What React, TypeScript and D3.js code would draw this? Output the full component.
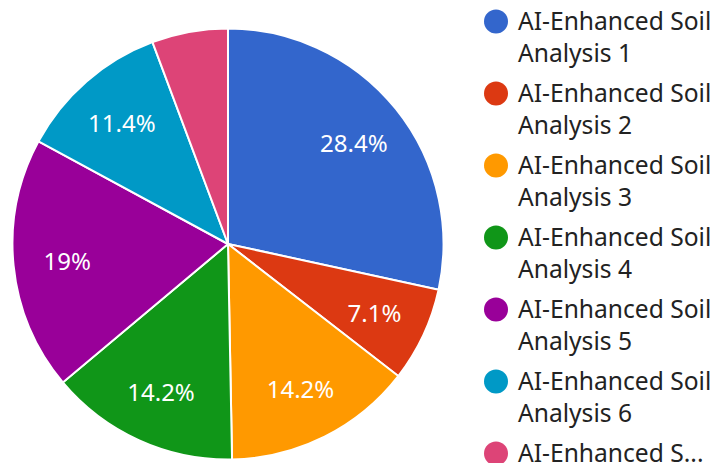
import * as d3 from 'd3';
import { useEffect, useRef } from 'react';

const categories = [
  'AI-Enhanced Soil Analysis 1',
  'AI-Enhanced Soil Analysis 2',
  'AI-Enhanced Soil Analysis 3',
  'AI-Enhanced Soil Analysis 4',
  'AI-Enhanced Soil Analysis 5',
  'AI-Enhanced Soil Analysis 6',
  'AI-Enhanced Soil Analysis 7',
];
const values = [28.4, 7.1, 14.2, 14.2, 19, 11.4, 5.7];
const colors = ['#3366cc', '#dc3912', '#ff9900', '#109618', '#990099', '#0099c6', '#dd4477'];

export default function App() {
  const ref = useRef<SVGSVGElement | null>(null);

  useEffect(() => {
    if (!ref.current) return;
    const width = 713;
    const height = 463;
    const cx = 228;
    const cy = 244;
    const r = 215.5;
    const font = '"Noto Sans", sans-serif';

    const svg = d3.select(ref.current);
    svg.selectAll('*').remove();
    svg.attr('width', width).attr('height', height);

    const data = categories.map((name, i) => ({ name, value: values[i], color: colors[i] }));
    const total = d3.sum(values);

    const pie = d3
      .pie<{ name: string; value: number; color: string }>()
      .value((d) => d.value)
      .sort(null);
    const arcs = pie(data);
    const arc = d3.arc<d3.PieArcDatum<any>>().innerRadius(0).outerRadius(r);
    const labelArc = d3.arc<d3.PieArcDatum<any>>().innerRadius(r * 0.75).outerRadius(r * 0.75);

    const g = svg.append('g').attr('transform', `translate(${cx},${cy})`);

    g.selectAll('path')
      .data(arcs)
      .join('path')
      .attr('d', arc as any)
      .attr('fill', (d) => d.data.color)
      .attr('stroke', '#ffffff')
      .attr('stroke-width', 2);

    g.selectAll('text')
      .data(arcs.filter((d) => d.data.value / total >= 0.06))
      .join('text')
      .attr('transform', (d) => `translate(${labelArc.centroid(d as any)})`)
      .attr('text-anchor', 'middle')
      .attr('dominant-baseline', 'central')
      .attr('font-family', font)
      .attr('font-size', 24)
      .attr('fill', '#ffffff')
      .text((d) => `${d.data.value}%`);

    // legend
    const legend = svg.append('g');
    const step = 72;
    data.forEach((d, i) => {
      const y0 = 21.5 + i * step;
      legend
        .append('circle')
        .attr('cx', 496)
        .attr('cy', y0)
        .attr('r', 12)
        .attr('fill', d.color);
      const words = d.name.split(' ');
      const line1 = words.slice(0, 2).join(' ');
      const line2 = words.slice(2).join(' ');
      const fits = y0 + 40 < height;
      legend
        .append('text')
        .attr('x', 518)
        .attr('y', y0 + 8.5)
        .attr('font-family', font)
        .attr('font-size', 24.6)
        .attr('fill', '#222222')
        .text(fits ? line1 : 'AI-Enhanced S...');
      if (fits) {
        legend
          .append('text')
          .attr('x', 518)
          .attr('y', y0 + 40.9)
          .attr('font-family', font)
          .attr('font-size', 24.6)
          .attr('fill', '#222222')
          .text(line2);
      }
    });
  }, []);

  return <svg ref={ref} style={{ position: 'absolute', left: 0, top: 0 }} />;
}
